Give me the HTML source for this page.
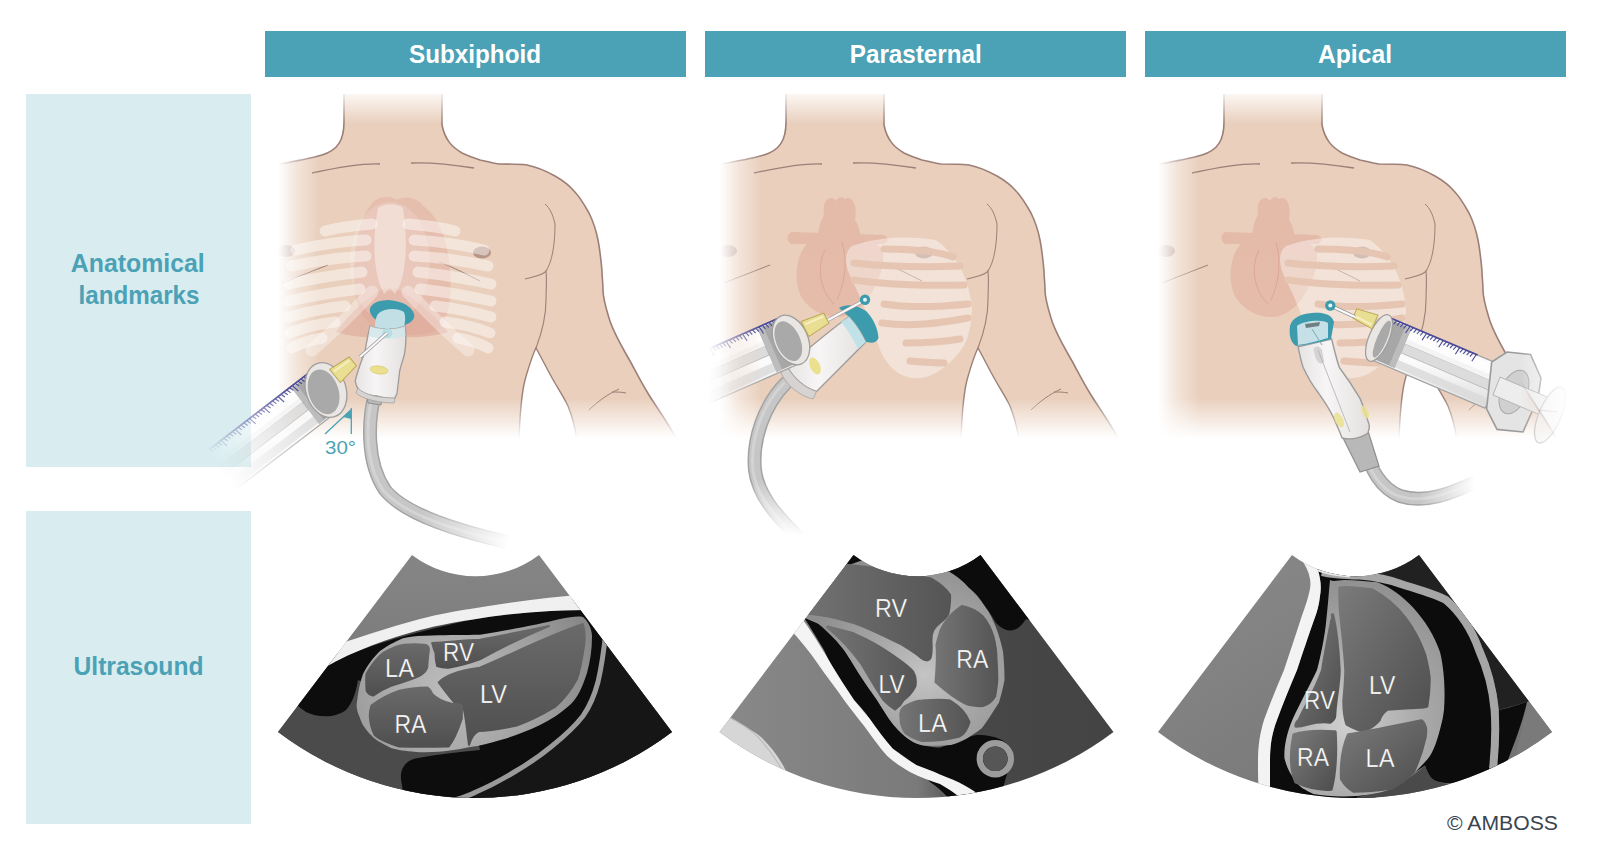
<!DOCTYPE html>
<html><head><meta charset="utf-8">
<style>
html,body{margin:0;padding:0;background:#fff;}
body{width:1600px;height:852px;overflow:hidden;position:relative;}
svg{position:absolute;left:0;top:0;display:block;}
</style></head><body>
<svg width="1600" height="852" viewBox="0 0 1600 852" font-family="'Liberation Sans', sans-serif">
<defs>
  <linearGradient id="gL" x1="0" y1="0" x2="1" y2="0"><stop offset="0" stop-color="#000"/><stop offset="1" stop-color="#fff"/></linearGradient>
  <linearGradient id="gB" x1="0" y1="0" x2="0" y2="1"><stop offset="0" stop-color="#fff"/><stop offset="1" stop-color="#000"/></linearGradient>
  <linearGradient id="gT" x1="0" y1="0" x2="0" y2="1"><stop offset="0" stop-color="#000"/><stop offset="1" stop-color="#fff"/></linearGradient>
  <linearGradient id="mgL" x1="0" y1="0" x2="1" y2="0"><stop offset="0" stop-color="#000" stop-opacity="1"/><stop offset="0.45" stop-color="#000" stop-opacity="0.45"/><stop offset="1" stop-color="#000" stop-opacity="0"/></linearGradient>
  <linearGradient id="mgB" x1="0" y1="0" x2="0" y2="1"><stop offset="0" stop-color="#000" stop-opacity="0"/><stop offset="1" stop-color="#000" stop-opacity="1"/></linearGradient>
  <linearGradient id="mgT" x1="0" y1="0" x2="0" y2="1"><stop offset="0" stop-color="#000" stop-opacity="1"/><stop offset="1" stop-color="#000" stop-opacity="0"/></linearGradient>
  <mask id="mTorso" maskUnits="userSpaceOnUse" x="0" y="0" width="1600" height="852">
    <rect x="200" y="0" width="600" height="852" fill="#fff"/>
    <rect x="200" y="0" width="78" height="852" fill="#000"/>
    <rect x="278" y="0" width="42" height="852" fill="url(#mgL)"/>
    <rect x="200" y="398" width="600" height="40" fill="url(#mgB)"/>
    <rect x="200" y="438" width="600" height="40" fill="#000"/>
    <rect x="200" y="88" width="600" height="36" fill="url(#mgT)"/>
  </mask>
  <g id="torso">
    <path d="M344,94 L344,122 C344,140 338,150 322,155 C305,160 285,163 268,166 L268,445 L519,445 L519,436 C520,410 522,392 525,380 C529,366 532,356 536,348 C541,357 546,367 551,376 C557,387 563,396 568,406 C572,416 575,426 577,445 L677,445 L675,436 C667,421 657,408 649,395 C642,384 636,372 630,361 C621,345 613,332 609,318 C605,305 603,296 603,290 C603,283 602,277 602,271 C601,260 600,250 598,240 C596,230 593,221 589,213 C584,204 580,197 574,191 C568,184 562,180 555,176 C546,171 537,167 527,165 C518,164 508,164 499,164 C492,163 486,161 480,160 C474,158 468,156 462,153 C452,147 445,140 442,125 L442,94 Z" fill="#E9CFBC"/>
    <path d="M344,94 L344,122 C344,140 338,150 322,155 C305,160 285,163 268,166" fill="none" stroke="#9C7F77" stroke-width="1.6"/>
    <path d="M442,94 L442,125 C445,140 452,147 462,153 C468,156 474,158 480,160 C486,161 492,163 499,164 C508,164 518,164 527,165 C537,167 546,171 555,176 C562,180 568,184 574,191 C580,197 584,204 589,213 C593,221 596,230 598,240 C600,250 601,260 602,271 C602,277 603,283 603,290 C603,296 605,305 609,318 C613,332 621,345 630,361 C636,372 642,384 649,395 C657,408 667,421 677,440" fill="none" stroke="#9C7F77" stroke-width="1.6"/>
    <path d="M519,440 C520,410 522,392 525,380 C529,366 532,356 536,348 C541,357 546,367 551,376 C557,387 563,396 568,406 C572,416 575,426 577,440" fill="none" stroke="#9C7F77" stroke-width="1.4"/>
    <path d="M536,348 C541,335 546,320 546,300 C546,290 547,280 546,271 C544,275 535,276 525,279" fill="none" stroke="#9C7F77" stroke-width="1.1"/>
    <path d="M546,271 C552,262 555,245 555,224 C553,215 550,208 545,204" fill="none" stroke="#9C7F77" stroke-width="1"/>
    <path d="M312,173 C335,168 360,163 380,164" fill="none" stroke="#9C7F77" stroke-width="1.3"/>
    <path d="M411,163 C430,162 455,165 474,168" fill="none" stroke="#9C7F77" stroke-width="1.3"/>
    <path d="M589,410 C597,402 608,394 619,389 M612,392 C617,392 622,392 626,393" fill="none" stroke="#9C7F77" stroke-width="1"/>
    <ellipse cx="482" cy="252.5" rx="9" ry="6" fill="#B79587"/>
    <ellipse cx="286" cy="251" rx="9" ry="6" fill="#B79587"/>
    <path d="M282,283 C300,276 315,270 328,265 M439,262 C455,268 468,275 480,281" fill="none" stroke="#8b6e66" stroke-width="1" opacity="0.8"/>
  </g>
  <linearGradient id="fanG" x1="0" y1="0" x2="0" y2="1"><stop offset="0" stop-color="#777"/><stop offset="1" stop-color="#444"/></linearGradient>
</defs>

<!-- header bars -->
<rect x="265" y="31" width="421" height="46" fill="#4BA1B5"/>
<rect x="705" y="31" width="421" height="46" fill="#4BA1B5"/>
<rect x="1145" y="31" width="421" height="46" fill="#4BA1B5"/>
<g fill="#fff" font-weight="bold" font-size="26" text-anchor="middle">
  <text x="475" y="62.5" textLength="132" lengthAdjust="spacingAndGlyphs">Subxiphoid</text>
  <text x="915.75" y="62.5" textLength="132" lengthAdjust="spacingAndGlyphs">Parasternal</text>
  <text x="1355" y="62.5" textLength="74" lengthAdjust="spacingAndGlyphs">Apical</text>
</g>
<!-- left panels -->
<rect x="26" y="94" width="225" height="373" fill="#D9EDF0"/>
<rect x="26" y="511" width="225" height="313" fill="#D9EDF0"/>
<g fill="#4BA1B5" font-weight="bold" font-size="26" text-anchor="middle">
  <text x="137.75" y="272" textLength="134" lengthAdjust="spacingAndGlyphs">Anatomical</text>
  <text x="139" y="303.5" textLength="121" lengthAdjust="spacingAndGlyphs">landmarks</text>
  <text x="138.5" y="675" textLength="130" lengthAdjust="spacingAndGlyphs">Ultrasound</text>
</g>

<!-- torsos -->
<g mask="url(#mTorso)">
  <use href="#torso"/>
  <!-- panel1 heart -->
  <path d="M370,206 C376,196 390,195 397,200 C405,195 418,198 423,206 C438,215 448,240 450,270 C452,300 448,320 438,330 C420,338 395,336 375,328 C360,318 353,300 354,270 C355,240 360,220 370,206 Z" fill="#e3ad9f" opacity="0.5"/>
  <path d="M385,288 C390,292 392,292 395,288 C410,295 430,310 448,332 C430,338 405,338 390,336 C375,338 355,338 336,332 C350,312 370,295 385,288 Z" fill="#dc9f8f" opacity="0.5"/>
  <g fill="none" stroke="#fff" stroke-opacity="0.45" stroke-width="11" stroke-linecap="round">
    <path d="M372.0,224.0 Q345.0,226.0 325.0,231.0"/>
    <path d="M366.0,240.0 Q330.0,242.0 296.0,250.0"/>
    <path d="M366.0,256.0 Q330.0,258.0 292.0,266.0"/>
    <path d="M362.0,272.0 Q325.0,276.0 289.0,284.0"/>
    <path d="M360.0,289.0 Q325.0,293.0 289.0,301.0"/>
    <path d="M345.0,306.0 Q318.0,309.0 289.0,317.0"/>
    <path d="M335.0,322.0 Q310.0,325.0 290.0,333.0"/>
    <path d="M322.0,338.0 Q305.0,341.0 292.0,348.0"/>
    <path d="M408.0,224.0 Q435.0,226.0 455.0,231.0"/>
    <path d="M414.0,240.0 Q450.0,242.0 484.0,250.0"/>
    <path d="M414.0,256.0 Q450.0,258.0 488.0,266.0"/>
    <path d="M418.0,272.0 Q455.0,276.0 491.0,284.0"/>
    <path d="M420.0,289.0 Q455.0,293.0 491.0,301.0"/>
    <path d="M435.0,306.0 Q462.0,309.0 491.0,317.0"/>
    <path d="M445.0,322.0 Q470.0,325.0 490.0,333.0"/>
    <path d="M458.0,338.0 Q475.0,341.0 488.0,348.0"/>
    <path d="M372,292 C355,310 335,330 312,350 M408,292 C425,310 445,330 468,350" stroke-width="13" stroke-opacity="0.33"/>
  </g>
  <path d="M378,208 C385,203 397,203 403,208 C408,240 406,268 400,285 L395,294 L390,288 L384,294 L380,285 C374,268 372,240 378,208 Z" fill="#fff" fill-opacity="0.4"/>
  <ellipse cx="390" cy="262" rx="40" ry="60" fill="#fff" fill-opacity="0.15"/>
</g>
<g transform="translate(442,0)" mask="url(#mTorso)">
  <use href="#torso"/>
  <g id="heart2">
    <g fill="#e0a193" opacity="0.45">
      <path d="M366,243 C352,256 352,285 360,298 C368,310 382,317 395,317 C410,317 422,306 430,292 C438,278 442,265 441,254 C439,246 432,241 424,239 L372,239 Z"/>
      <path d="M376,241 C376,230 378,222 382,215 C381,208 382,201 386,199 C389,197 392,198 394,201 C396,197 400,196 403,199 C406,197 410,198 412,203 C414,208 414,214 413,220 C417,226 419,234 419,241 Z"/>
      <path d="M350,232 L441,235 C447,236 447,243 441,244 L350,244 C344,243 344,233 350,232 Z"/>
    </g>
    <path d="M383,250 C375,265 377,290 392,304 M400,242 C405,260 404,280 395,300" fill="none" stroke="#d49486" stroke-width="1" opacity="0.5"/>
    <path d="M410,246 C438,236 470,236 494,240 C515,255 528,280 530,310 C529,330 525,345 515,355 C500,372 485,380 470,378 C455,376 445,365 438,350 C430,325 420,300 410,280 C402,265 402,252 410,246 Z" fill="#fff" fill-opacity="0.4"/>
    <g fill="none" stroke="#e5c4b1" stroke-opacity="0.95" stroke-width="7" stroke-linecap="round">
      <path d="M442,249 C470,249 495,251 511,257"/>
      <path d="M412,263 C440,266 475,268 518,266"/>
      <path d="M412,280 C440,284 475,286 522,285"/>
      <path d="M442,304 C460,307 485,308 526,304"/>
      <path d="M440,323 C460,326 490,325 526,318"/>
      <path d="M464,343 C480,343 500,342 518,339"/>
      <path d="M468,361 C480,362 492,363 502,363"/>
    </g>
  </g>
</g>
<g transform="translate(880,0)" mask="url(#mTorso)">
  <use href="#torso"/>
  <use href="#heart2" transform="translate(-4,0)"/>
</g>

<!-- instruments -->
<defs>
  <linearGradient id="cableFade1" gradientUnits="userSpaceOnUse" x1="420" y1="515" x2="510" y2="540"><stop offset="0" stop-color="#fff"/><stop offset="1" stop-color="#000"/></linearGradient>
  <mask id="mCable1" maskUnits="userSpaceOnUse" x="0" y="0" width="1600" height="852"><rect x="0" y="0" width="1600" height="852" fill="url(#cableFade1)"/></mask>
  <linearGradient id="cableFade2" gradientUnits="userSpaceOnUse" x1="0" y1="480" x2="0" y2="535"><stop offset="0" stop-color="#fff"/><stop offset="1" stop-color="#000"/></linearGradient>
  <mask id="mCable2" maskUnits="userSpaceOnUse" x="0" y="0" width="1600" height="852"><rect x="0" y="0" width="1600" height="852" fill="url(#cableFade2)"/></mask>
  <linearGradient id="cableFade3" gradientUnits="userSpaceOnUse" x1="1420" y1="0" x2="1475" y2="0"><stop offset="0" stop-color="#fff"/><stop offset="1" stop-color="#000"/></linearGradient>
  <mask id="mCable3" maskUnits="userSpaceOnUse" x="0" y="0" width="1600" height="852"><rect x="0" y="0" width="1600" height="852" fill="url(#cableFade3)"/></mask>
  <linearGradient id="syrFade1" gradientUnits="userSpaceOnUse" x1="300" y1="400" x2="215" y2="465"><stop offset="0" stop-color="#fff"/><stop offset="1" stop-color="#000"/></linearGradient>
  <mask id="mSyr1" maskUnits="userSpaceOnUse" x="0" y="0" width="1600" height="852"><rect x="0" y="0" width="1600" height="852" fill="url(#syrFade1)"/></mask>
  <linearGradient id="syrFade2" gradientUnits="userSpaceOnUse" x1="760" y1="0" x2="708" y2="0"><stop offset="0" stop-color="#fff"/><stop offset="1" stop-color="#000"/></linearGradient>
  <mask id="mSyr2" maskUnits="userSpaceOnUse" x="0" y="0" width="1600" height="852"><rect x="0" y="0" width="1600" height="852" fill="url(#syrFade2)"/></mask>
  <linearGradient id="syrFade3" gradientUnits="userSpaceOnUse" x1="1520" y1="0" x2="1570" y2="0"><stop offset="0" stop-color="#fff"/><stop offset="1" stop-color="#000"/></linearGradient>
  <mask id="mSyr3" maskUnits="userSpaceOnUse" x="0" y="0" width="1600" height="852"><rect x="0" y="0" width="1600" height="852" fill="url(#syrFade3)"/></mask>
  <linearGradient id="barrelG" x1="0" y1="0" x2="0" y2="1"><stop offset="0" stop-color="#f4f4f4"/><stop offset="0.5" stop-color="#fbfbfb"/><stop offset="1" stop-color="#dedede"/></linearGradient>
  <linearGradient id="probeG" x1="0" y1="0" x2="1" y2="0"><stop offset="0" stop-color="#e6e3e3"/><stop offset="0.4" stop-color="#f7f5f5"/><stop offset="1" stop-color="#e4e0e0"/></linearGradient>
  <!-- generic syringe along +x (needle at -x), half width 25 -->
  <g id="syringe">
    <rect x="0" y="-25" width="170" height="50" fill="url(#barrelG)" stroke="#a9a9a9" stroke-width="1.4"/>
    <rect x="3" y="-23" width="22" height="46" fill="#a9a9a9"/>
    <rect x="18" y="-23" width="8" height="46" fill="#bdbdbd"/>
    <rect x="26" y="-8" width="144" height="16" fill="#e7e7e7" stroke="#c4c4c4" stroke-width="1"/>
    <rect x="26" y="-3" width="144" height="4" fill="#f7f7f7"/>
    <path d="M8,-25 L140,-25" stroke="#3f3f8f" stroke-width="5" stroke-dasharray="1.2 2.2"/>
    <path d="M12,-24 L130,-24" stroke="#3f3f8f" stroke-width="9" stroke-dasharray="1.2 15"/>
    <ellipse cx="0" cy="0" rx="7" ry="27" fill="#dedede" stroke="#a9a9a9" stroke-width="1.4"/>
    <ellipse cx="-1" cy="0" rx="4" ry="21" fill="#b9b9b9"/>
  </g>
</defs>

<!-- INST START -->
<g mask="url(#mCable1)">
  <path d="M375,393 C368,420 366,462 385,490 C405,515 460,532 520,545" fill="none" stroke="#a3a3a3" stroke-width="14" stroke-linecap="round"/>
  <path d="M375,393 C368,420 366,462 385,490 C405,515 460,532 520,545" fill="none" stroke="#c6c6c6" stroke-width="11" stroke-linecap="round"/>
  <path d="M375,393 C368,420 366,462 385,490 C405,515 460,532 520,545" fill="none" stroke="#d8d8d8" stroke-width="3" stroke-linecap="round" transform="translate(-2,0)" opacity="0.7"/>
</g>
<path d="M366,390 L383,393 L381,405 L368,403 Z" fill="#b8b8b8" stroke="#8f8f8f" stroke-width="1"/>
<g mask="url(#mSyr1)">
<polygon points="340.6,409.0 209.7,509.5 180.5,471.4 311.4,371.0" fill="url(#barrelG)" stroke="#a5a5a5" stroke-width="1.3"/>
<polygon points="297.7,386.0 182.7,474.3 192.2,486.6 307.2,398.4" fill="#ffffff" opacity="0.7"/>
<polygon points="323.3,419.3 208.2,507.6 203.1,500.9 318.2,412.6" fill="#d9d9d9" opacity="0.8"/>
<polygon points="308.4,409.8 198.1,494.4 192.1,486.5 302.3,401.9" fill="#dcdcdc" stroke="#bdbdbd" stroke-width="1"/>
<polygon points="302.3,401.9 192.1,486.5 189.0,482.5 299.3,397.9" fill="#f4f4f4"/>
<polygon points="339.7,407.9 319.1,423.7 291.7,388.0 312.3,372.1" fill="#a7a7a7"/>
<polygon points="323.8,420.0 319.1,423.7 291.7,388.0 296.4,384.3" fill="#bcbcbc"/>
<path d="M306.6,374.6 L312.7,380.0 M303.8,376.8 L307.7,379.5 M300.9,379.0 L304.8,381.7 M298.1,381.2 L302.0,383.8 M295.2,383.4 L299.1,386.0 M292.3,385.6 L298.4,391.0 M289.5,387.8 L293.4,390.4 M286.6,390.0 L290.6,392.6 M283.8,392.1 L287.7,394.8 M280.9,394.3 L284.9,397.0 M278.1,396.5 L284.1,402.0 M275.2,398.7 L279.1,401.4 M272.4,400.9 L276.3,403.6 M269.5,403.1 L273.4,405.8 M266.6,405.3 L270.6,408.0 M263.8,407.5 L269.8,412.9 M260.9,409.7 L264.9,412.3 M258.1,411.9 L262.0,414.5 M255.2,414.1 L259.1,416.7 M252.4,416.3 L256.3,418.9 M249.5,418.4 L255.6,423.9 M246.7,420.6 L250.6,423.3 M243.8,422.8 L247.7,425.5 M240.9,425.0 L244.9,427.7 M238.1,427.2 L242.0,429.9 M235.2,429.4 L241.3,434.8 M232.4,431.6 L236.3,434.2 M229.5,433.8 L233.4,436.4 M226.7,436.0 L230.6,438.6 M223.8,438.2 L227.7,440.8 M220.9,440.4 L227.0,445.8 M218.1,442.5 L222.0,445.2 M215.2,444.7 L219.2,447.4 M212.4,446.9 L216.3,449.6 M209.5,449.1 L213.5,451.8" stroke="#4a4a98" stroke-width="1.1" fill="none"/>
<path d="M308.2,373.4 L209.3,449.3" stroke="#4a4a98" stroke-width="1.6"/>

</g>
<ellipse cx="326.0" cy="390.0" rx="28.0" ry="20.0" transform="rotate(72.0 326.0 390.0)" fill="#e9e6e4" stroke="#9f9f9f" stroke-width="1.3"/>
<ellipse cx="323.6" cy="391.8" rx="23.0" ry="15.0" transform="rotate(72.0 323.6 391.8)" fill="#a9a9a9"/>
<g transform="translate(335.0,376.0) rotate(-39.4)"><path d="M0,-8.5 L23.0,-5.7 L23.0,5.7 L0,8.5 Z" fill="#e9de92" stroke="#b9a856" stroke-width="1"/><path d="M2,-4.2 L21.0,-2.8" stroke="#f6efc2" stroke-width="2"/></g>
<ellipse cx="392" cy="313" rx="22.5" ry="12.5" fill="#3c9cae" transform="rotate(10 392 313)"/>
<path d="M379,313 C385,308 398,308 404,312 C406,317 405,322 404,327 C396,331 382,331 375,327 C375,321 376,316 379,313 Z" fill="#c2dfe5"/>
<path d="M370,326 C368,335 366,345 365,351.6 C361,362 357,372 355.2,381.2 C356,386 358,389 360,391 C365,394 371,396 377.4,396 C383,398 389,398.4 394.7,398.4 C396,395 397,394 397,393.5 C398,385 399,378 399.6,371.3 C401,365 403,360 404.5,354 C406,345 406.5,335 405,326 C396,330 380,330 370,326 Z" fill="url(#probeG)" stroke="#a09a98" stroke-width="1.3"/>
<path d="M370,326 C380,330 396,330 405,326 L405.5,336 C396,340 380,340 368.5,336 Z" fill="#cfe6ea" opacity="0.8"/>
<path d="M358,388 C364,395 380,398 395,398 L394,403 C380,403 362,399 356,393 Z" fill="#d6d3d2" stroke="#a5a5a5" stroke-width="0.8"/>
<circle cx="387.3" cy="333" r="5" fill="#b6dde4"/>
<path d="M360.0,357.0 L387.0,333.0" stroke="#9a9a9a" stroke-width="3.6"/><path d="M360.0,357.0 L387.0,333.0" stroke="#fbfbfb" stroke-width="2"/>
<ellipse cx="379" cy="370" rx="9" ry="4" fill="#eae08e" transform="rotate(8 379 370)" stroke="#d2c56c" stroke-width="0.6"/>
<path d="M351.3,408 L351.3,434 M325,434 L351.3,409.5" fill="none" stroke="#4aa3b5" stroke-width="1.3"/>
<path d="M351.3,409.5 L351.3,419 L343,417 Z" fill="#4aa3b5"/>
<text x="325" y="453.7" font-size="18" fill="#4aa3b5" textLength="31" lengthAdjust="spacingAndGlyphs">30°</text>
<g mask="url(#mCable2)">
  <path d="M786,383 C764,405 752,440 755,470 C758,495 776,515 796,535" fill="none" stroke="#a3a3a3" stroke-width="14" stroke-linecap="round"/>
  <path d="M786,383 C764,405 752,440 755,470 C758,495 776,515 796,535" fill="none" stroke="#c6c6c6" stroke-width="11" stroke-linecap="round"/>
  <path d="M786,383 C764,405 752,440 755,470 C758,495 776,515 796,535" fill="none" stroke="#d8d8d8" stroke-width="3" stroke-linecap="round" transform="translate(-2,0)" opacity="0.7"/>
</g>
<path d="M839,308 C846,303 858,305 866,311 C873,318 878,328 878.5,338 C877,342 873,344 867,342 L865.8,342 C861,332 855,323 849,317 C846,314 842,311 839,308 Z" fill="#3c9cae"/>
<path d="M787,366 C805,352 830,330 848.9,316.8 C855,323 861,332 865.8,342 C850,358 832,376 816.5,391.4 C805,388 793,378 787,366 Z" fill="url(#probeG)" stroke="#a09a98" stroke-width="1.3"/>
<path d="M841,322 L848.9,316.8 C855,323 861,332 865.8,342 L858,349 C854,340 848,330 841,322 Z" fill="#bfe1e7"/>
<path d="M787,366 C793,378 805,388 816.5,391.4 L813,399 C800,396 787,386 781,373 Z" fill="#d6d3d2" stroke="#a5a5a5" stroke-width="0.8"/>
<ellipse cx="815" cy="366" rx="5" ry="9" fill="#eae08e" transform="rotate(-25 815 366)"/>
<g mask="url(#mSyr2)">
<polygon points="801.0,362.9 691.2,411.1 671.1,365.3 781.0,317.1" fill="url(#barrelG)" stroke="#a5a5a5" stroke-width="1.3"/>
<polygon points="764.1,328.6 672.6,368.8 679.1,383.7 770.7,343.5" fill="#ffffff" opacity="0.7"/>
<polygon points="781.7,368.6 690.2,408.8 686.6,400.8 778.2,360.6" fill="#d9d9d9" opacity="0.8"/>
<polygon points="769.2,355.0 683.1,392.8 679.1,383.7 765.2,345.9" fill="#dcdcdc" stroke="#bdbdbd" stroke-width="1"/>
<polygon points="765.2,345.9 679.1,383.7 677.1,379.1 763.2,341.3" fill="#f4f4f4"/>
<polygon points="800.4,361.5 776.6,372.0 757.7,328.9 781.6,318.5" fill="#a7a7a7"/>
<polygon points="782.1,369.6 776.6,372.0 757.7,328.9 763.2,326.5" fill="#bcbcbc"/>
<path d="M775.5,319.5 L780.0,326.2 M772.2,321.0 L775.3,324.5 M768.9,322.4 L772.0,325.9 M765.6,323.9 L768.8,327.4 M762.3,325.3 L765.5,328.8 M759.0,326.8 L763.6,333.5 M755.7,328.2 L758.9,331.7 M752.4,329.6 L755.6,333.2 M749.1,331.1 L752.3,334.6 M745.8,332.5 L749.0,336.1 M742.5,334.0 L747.1,340.7 M739.2,335.4 L742.4,339.0 M735.9,336.9 L739.1,340.4 M732.6,338.3 L735.8,341.8 M729.3,339.8 L732.5,343.3 M726.0,341.2 L730.6,347.9 M722.7,342.7 L725.9,346.2 M719.4,344.1 L722.6,347.6 M716.1,345.6 L719.3,349.1 M712.8,347.0 L716.0,350.5 M709.5,348.5 L714.1,355.2 M706.2,349.9 L709.4,353.4 M702.9,351.4 L706.1,354.9 M699.6,352.8 L702.8,356.3 M696.3,354.2 L699.5,357.8" stroke="#4a4a98" stroke-width="1.1" fill="none"/>
<path d="M777.3,318.7 L695.2,354.7" stroke="#4a4a98" stroke-width="1.6"/>

</g>
<ellipse cx="791.0" cy="340.0" rx="26.0" ry="17.0" transform="rotate(-113.7 791.0 340.0)" fill="#e9e6e4" stroke="#9f9f9f" stroke-width="1.3"/>
<ellipse cx="788.3" cy="341.2" rx="21.0" ry="12.0" transform="rotate(-113.7 788.3 341.2)" fill="#a9a9a9"/>
<g transform="translate(805.0,329.0) rotate(-27.0)"><path d="M0,-8.5 L24.0,-5.7 L24.0,5.7 L0,8.5 Z" fill="#e9de92" stroke="#b9a856" stroke-width="1"/><path d="M2,-4.2 L22.0,-2.8" stroke="#f6efc2" stroke-width="2"/></g>
<path d="M828.0,320.0 L865.0,300.0" stroke="#9a9a9a" stroke-width="3.6"/><path d="M828.0,320.0 L865.0,300.0" stroke="#fbfbfb" stroke-width="2"/>
<circle cx="865" cy="299.7" r="5.2" fill="#3c9cae"/><circle cx="865" cy="299.7" r="2" fill="#e8f4f6"/>
<g mask="url(#mCable3)">
  <path d="M1362,445 C1372,470 1380,488 1400,496 C1425,504 1450,494 1480,480" fill="none" stroke="#a3a3a3" stroke-width="14" stroke-linecap="round"/>
  <path d="M1362,445 C1372,470 1380,488 1400,496 C1425,504 1450,494 1480,480" fill="none" stroke="#c6c6c6" stroke-width="11" stroke-linecap="round"/>
  <path d="M1362,445 C1372,470 1380,488 1400,496 C1425,504 1450,494 1480,480" fill="none" stroke="#d8d8d8" stroke-width="3" stroke-linecap="round" transform="translate(-2,0)" opacity="0.7"/>
</g>
<path d="M1342,436 L1368,431 L1379,466 L1360,472 Z" fill="#b8b8b8" stroke="#8f8f8f" stroke-width="1.2"/>
<path d="M1298,346.8 C1300,355 1301,362 1303.2,367.5 C1308,378 1313,386 1318.7,393.3 C1325,402 1330,410 1334.2,419 C1337,426 1340,432 1342,438 C1350,440 1360,438 1367.8,433.3 C1369,430 1370,427 1369,424.3 C1366,415 1363,405 1360,398.4 C1352,385 1345,375 1339.4,367.5 C1336,358 1334,348 1331.6,339 Z" fill="url(#probeG)" stroke="#9c9c9c" stroke-width="1.4"/>
<path d="M1290,326 C1292,318 1300,314 1312,313 C1322,312 1332,314 1334,322 L1331,339 C1320,342 1305,345 1296,346 C1290,342 1289,334 1290,326 Z" fill="#3c9cae"/>
<path d="M1297,326 C1303,321 1322,319 1328,323 L1328,338 C1318,341 1306,344 1298,345 Z" fill="#c5e0e6"/><path d="M1305,324 L1320,322 L1319,326 L1306,328 Z" fill="#6f7f84"/>
<path d="M1312,329 L1322,345" stroke="#7aaab4" stroke-width="1"/>
<path d="M1314,352 C1312,346 1319,344 1322,350 L1324,362 C1320,366 1316,362 1314,352 Z" fill="#d4d4d4"/>
<path d="M1318,350 L1350,432" stroke="#b0b0b0" stroke-width="0.8"/>
<ellipse cx="1339" cy="420" rx="4" ry="8" fill="#eae08e" opacity="0.85" transform="rotate(-25 1339 420)"/>
<ellipse cx="1365" cy="412" rx="3" ry="7" fill="#eae08e" opacity="0.85" transform="rotate(-25 1365 412)"/>
<g mask="url(#mSyr3)">
<polygon points="1388.0,316.8 1503.0,365.9 1485.0,408.2 1370.0,359.2" fill="url(#barrelG)" stroke="#a5a5a5" stroke-width="1.3"/>
<polygon points="1405.1,327.9 1501.6,369.1 1495.8,382.8 1399.2,341.6" fill="#ffffff" opacity="0.7"/>
<polygon points="1389.3,364.9 1485.9,406.1 1489.0,398.7 1392.4,357.5" fill="#d9d9d9" opacity="0.8"/>
<polygon points="1404.9,343.6 1495.9,382.4 1492.0,391.6 1401.0,352.8" fill="#dcdcdc" stroke="#bdbdbd" stroke-width="1"/>
<polygon points="1404.9,343.6 1495.9,382.4 1497.9,377.8 1406.8,339.0" fill="#f4f4f4"/>
<polygon points="1387.4,318.2 1411.4,328.4 1394.5,368.0 1370.6,357.8" fill="#a7a7a7"/>
<polygon points="1405.8,326.1 1411.4,328.4 1394.5,368.0 1389.0,365.6" fill="#bcbcbc"/>
<path d="M1393.5,319.2 L1389.0,326.0 M1396.9,320.6 L1393.7,324.2 M1400.2,322.0 L1397.0,325.6 M1403.5,323.4 L1400.3,327.0 M1406.8,324.8 L1403.6,328.4 M1410.1,326.3 L1405.6,333.0 M1413.4,327.7 L1410.3,331.2 M1416.7,329.1 L1413.6,332.6 M1420.0,330.5 L1416.9,334.0 M1423.3,331.9 L1420.2,335.5 M1426.7,333.3 L1422.1,340.1 M1430.0,334.7 L1426.8,338.3 M1433.3,336.1 L1430.1,339.7 M1436.6,337.6 L1433.4,341.1 M1439.9,339.0 L1436.8,342.5 M1443.2,340.4 L1438.7,347.2 M1446.5,341.8 L1443.4,345.3 M1449.8,343.2 L1446.7,346.8 M1453.1,344.6 L1450.0,348.2 M1456.5,346.0 L1453.3,349.6 M1459.8,347.4 L1455.3,354.2 M1463.1,348.9 L1459.9,352.4 M1466.4,350.3 L1463.2,353.8 M1469.7,351.7 L1466.6,355.2 M1473.0,353.1 L1469.9,356.6 M1476.3,354.5 L1471.8,361.3" stroke="#4a4a98" stroke-width="1.1" fill="none"/>
<path d="M1391.7,318.4 L1477.7,355.1" stroke="#4a4a98" stroke-width="1.6"/>
<polygon points="1507,352 1530.5,354.5 1541,378 1538,398 1523,432 1497,429.4 1486.6,408.8 1491.7,362" fill="#e4e4e4" stroke="#9b9b9b" stroke-width="1.6"/>
<ellipse cx="1514" cy="392" rx="13" ry="23" fill="#d0d0d0" stroke="#a8a8a8" stroke-width="1" transform="rotate(23 1514 392)"/>
<polygon points="1500,377 1552,399 1545,417 1493,395" fill="#ededed" stroke="#b5b5b5" stroke-width="1"/>
<ellipse cx="1550" cy="415" rx="11" ry="30" fill="#f3f3f3" stroke="#c5c5c5" stroke-width="1.4" transform="rotate(23 1550 415)"/>
<path d="M1538,410 L1558,412" stroke="#c5c5c5" stroke-width="1"/>
</g>
<ellipse cx="1379.0" cy="338.0" rx="25.0" ry="10.0" transform="rotate(113.1 1379.0 338.0)" fill="#e9e6e4" stroke="#9f9f9f" stroke-width="1.3"/>
<ellipse cx="1381.8" cy="339.2" rx="20.0" ry="5.0" transform="rotate(113.1 1381.8 339.2)" fill="#a9a9a9"/>
<g transform="translate(1375.0,322.0) rotate(203.0)"><path d="M0,-7.5 L22.0,-5.0 L22.0,5.0 L0,7.5 Z" fill="#e9de92" stroke="#b9a856" stroke-width="1"/><path d="M2,-3.8 L20.0,-2.5" stroke="#f6efc2" stroke-width="2"/></g>
<path d="M1355.0,317.0 L1330.0,305.5" stroke="#9a9a9a" stroke-width="3.6"/><path d="M1355.0,317.0 L1330.0,305.5" stroke="#fbfbfb" stroke-width="2"/>
<circle cx="1330.3" cy="305.5" r="5.2" fill="#3c9cae"/><circle cx="1330.3" cy="305.5" r="2" fill="#e8f4f6"/>
<!-- INST END -->

<!-- fans -->
<clipPath id="fan1c"><path d="M412,555 A105.3,105.3 0 0 0 539,555 L672,732 A327.3,327.3 0 0 1 278,732 Z"/></clipPath>
<linearGradient id="fanBg" x1="0" y1="0" x2="0" y2="1"><stop offset="0" stop-color="#878787"/><stop offset="0.45" stop-color="#7b7b7b"/><stop offset="1" stop-color="#4a4a4a"/></linearGradient>
<linearGradient id="wallG" x1="0" y1="0" x2="1" y2="1"><stop offset="0" stop-color="#b8b8b8"/><stop offset="1" stop-color="#979797"/></linearGradient>
<linearGradient id="chG" x1="0" y1="0" x2="0" y2="1"><stop offset="0" stop-color="#6a6a6a"/><stop offset="1" stop-color="#4f4f4f"/></linearGradient>
<radialGradient id="wall1G" gradientUnits="userSpaceOnUse" cx="450" cy="690" r="150"><stop offset="0" stop-color="#bdbdbd"/><stop offset="0.55" stop-color="#a3a3a3"/><stop offset="1" stop-color="#878787"/></radialGradient>
<g clip-path="url(#fan1c)">
  <rect x="270" y="540" width="410" height="270" fill="url(#fanBg)"/>
  <path d="M290,668 C360,645 420,626 470,614 C510,606 550,600 600,598 L700,600 L700,820 L270,820 L270,680 Z" fill="#4b4b4b"/>
  <path d="M604,600 L720,600 L720,820 L470,820 L476,792 C490,786 503,779 516,771 C528,764 540,756 552,746 C562,738 572,730 583,716 C590,706 594,697 598,682 C601,670 603,660 604,643 Z" fill="#161616"/>
  <path d="M320,668 C355,650 390,638 470,620 C510,613 550,610 590,610 C600,620 604,635 604,643 C603,660 601,670 598,682 C594,697 590,706 583,716 C572,730 562,738 552,746 C540,756 528,764 516,771 C503,779 490,786 476,792 L470,820 L406,820 L402,785 C398,770 405,760 418,758 C440,754 460,752 480,750 L470,700 L400,700 L358,680 C356,692 353,702 346,710 C336,718 318,718 306,712 C298,706 290,700 280,690 Z" fill="#0d0d0d"/>
  <path d="M606,630 C604,650 602,665 598,682 C594,697 590,706 583,716 C572,730 562,738 552,746 C540,756 528,764 516,771 C503,779 490,786 476,792 C470,795 465,797 455,800" fill="none" stroke="#9a9a9a" stroke-width="5"/>
  <path d="M322,650 C350,640 390,627 420,619 C440,614 455,611 470,609 C510,602 550,597 590,594 L597,610 C550,610 510,613 470,620 C455,622 440,625 420,630 C390,638 355,650 324,668 Z" fill="#f0f0f0"/>
  <path d="M583,617 C589,622 592,630 592,637 C592,650 590,662 587,673 C582,688 578,697 571,704 C560,714 550,720 540,725 C525,732 512,737 500.5,740 C490,743 480,746 470,747 C455,750 440,753 416,752 C405,751 398,750 391,748 C380,742 375,740 371,735 C364,728 361,722 360,718 C357,712 356,706 357,702 C358,692 360,682 363,674 C368,664 374,657 380,651 C390,644 398,640 404,638 C414,636 422,636 432,635.6 C450,635 465,635 480,634.8 C510,630 540,624 560,619 C570,617 578,616 583,617 Z" fill="url(#wall1G)"/>
  <g fill="url(#chG)" stroke="url(#chG)" stroke-width="2" stroke-linejoin="round">
    <path d="M373,695.6 C368,694 366,692 366.4,688 C366,682 366,678 366.4,674 C372,664 378,657 383,653 C392,648 398,645 404,644.7 C412,644 418,644 424,644.7 C427,645 428.9,647 428.9,649.6 C428,656 427.5,662 427.2,667.7 C426,671 423,674 419,676 C410,680 400,683 391,685.7 C385,688 378,692 373,695.6 Z"/>
    <path d="M432.2,643 C450,642 465,640 479.8,639.7 C500,636 530,630 549,626 C520,638 500,648 479.8,659.4 C470,663 460,666 448.6,667.7 C444,668 440,667 437.1,666 C436,662 435.5,658 435.5,652.9 C434,650 433,646 432.2,643 Z"/>
    <path d="M438.7,682.4 C443,678 447,676 451.9,674.2 C460,671 470,669 479.8,667.7 C510,655 550,635 583,624 C585,632 585,640 584,646 C582,660 580,670 577,679 C570,692 563,700 555,707 C540,716 528,722 516,725.7 C500,729 488,731 479,731 C475,732 471,738 469,744.9 C467,730 466,718 464,710 C462,706 458,704 454,702 C449,696 444,690 438.7,682.4 Z"/>
    <path d="M371.4,705.5 C380,699 390,694 399.3,690.7 C410,688 420,687.5 427.2,687.4 C430,689 431,691 432.2,694 C437,699 443,702 451.9,703.8 C456,704 459,704.5 461.8,705.5 C462,710 462,714 461.8,718.6 C458,730 454,740 448.6,746.5 C430,747 415,747 399.3,746.5 C388,743 380,740 374.7,735 C371,728 370,722 369.7,715.3 C370,711 370.5,708 371.4,705.5 Z"/>
  </g>
  <g fill="#fff" font-size="26" font-weight="normal" stroke="#5e5e5e" stroke-width="0.6" stroke-opacity="0.6">
    <text x="385" y="676.7" textLength="29" lengthAdjust="spacingAndGlyphs">LA</text>
    <text x="443" y="661.1" textLength="31" lengthAdjust="spacingAndGlyphs">RV</text>
    <text x="394.4" y="732.6" textLength="32" lengthAdjust="spacingAndGlyphs">RA</text>
    <text x="480" y="703.4" textLength="27" lengthAdjust="spacingAndGlyphs">LV</text>
  </g>
</g>
<clipPath id="fan2c"><path d="M853.5,555 A105.3,105.3 0 0 0 980.5,555 L1113.5,732 A327.3,327.3 0 0 1 719.5,732 Z"/></clipPath>
<linearGradient id="fan2Bg" x1="0" y1="0" x2="1" y2="0"><stop offset="0" stop-color="#8a8a8a"/><stop offset="0.5" stop-color="#7a7a7a"/><stop offset="0.62" stop-color="#484848"/><stop offset="1" stop-color="#434343"/></linearGradient>
<linearGradient id="ch2G" x1="0" y1="0" x2="1" y2="0"><stop offset="0" stop-color="#747474"/><stop offset="1" stop-color="#555"/></linearGradient>
<radialGradient id="wall2G" gradientUnits="userSpaceOnUse" cx="925" cy="675" r="120"><stop offset="0" stop-color="#c4c4c4"/><stop offset="0.5" stop-color="#a5a5a5"/><stop offset="1" stop-color="#8e8e8e"/></radialGradient>
<g clip-path="url(#fan2c)">
  <rect x="710" y="540" width="415" height="270" fill="url(#fan2Bg)"/>
  <path d="M700,700 L730,718 C745,726 755,732 761,737 C772,748 782,760 790,780 L700,800 Z" fill="#d6d6d6"/>
  <path d="M727,716 C742,724 752,731 758,737 C768,748 778,760 786,778" fill="none" stroke="#bdbdbd" stroke-width="1.2"/>
  <path d="M940,560 L1060,540 L1060,630 L1026,619 C1020,628 1016,630 1010,630.4 C1004,630 1000,627 996,623 C990,612 986,608 985,606.5 C980,598 975,592 969,588 C962,580 955,575 948,571 Z" fill="#0c0c0c"/>
  <!-- black band + bottom blob -->
  <path d="M780,590 L804,617.6 L818,623.5 C830,634 838,642 844,650 C848,655 851,660 853,664 C860,676 870,690 877,700 C882,708 886,714 889.3,719.3 C895,727 900,733 905.7,737 C912,742 917,744 922.2,745.2 C930,747 936,747.5 940,747.5 C955,743 965,737 976.6,735 C988,735 996,737 1002,740 C1008,744 1010,748 1009,752 C1010,765 1008,772 1005.5,779 L1000,800 L960,810 C950,800 940,788 930,782 L916.3,765.1 C905,757 898,752 892.8,748.7 C885,740 877,730 869.3,718.2 C865,712 860,706 854,700 C846,688 838,675 831,664 C828,659 826,654 824,650 C818,640 810,627 804,617.6 Z" fill="#0c0c0c"/>
  <!-- white band -->
  <path d="M788,627 C800,640 810,652 818,664 C826,676 836,688 844,700 C850,708 857,717 863.5,725.2 C871,735 879,747 887,755.7 C895,763 903,768 910.4,772.2 C920,777 930,781 940,784 C950,790 960,796 968,805 L985,800 C975,790 960,782 940,774.5 C932,771 924,768 916.3,765.1 C908,760 900,754 892.8,748.7 C885,740 877,729 869.3,718.2 C864,712 859,706 854,700 C846,688 838,676 831,664 C826,655 818,642 810,630 C806,624 803,620 800,615 Z" fill="#f4f4f4"/>
  <!-- heart outer -->
  <path d="M850,548 L863,560 C870,564 873,566 877,567 C895,570 912,572 927,574 L948,571 C955,575 962,580 969,588 C975,593 980,599 985,606.5 C990,613 993,620 996,627.6 C999,635 1001,643 1003,651.5 C1004,661 1004.5,670 1004.5,680 C1003,688 1001,696 999,702.5 C993,712 988,720 982,728 C972,736 962,742 951,745 C940,746 930,746 922.2,745.2 C916,744 911,741 905.7,737 C900,732 894,726 889.3,719.3 C885,713 881,706 877,700 C870,690 860,676 853,664 C850,659 847,655 844,650 C836,640 828,630 818,623.5 L804,617.6 L780,600 L800,548 Z" fill="url(#wall2G)"/>
  <path d="M848,550 L863,560 L846,566 Z" fill="#0c0c0c"/>
  <g fill="url(#ch2G)" stroke="url(#ch2G)" stroke-width="3" stroke-linejoin="round">
    <path d="M800,560 L880,569 C900,573 915,576 931,579 C938,583 945,588 949.6,595 C950,602 949,608 948,613.5 C946,618 943,620 940,622 C936,625 934,628 932.7,630.4 C931,634 931,638 931,640 C931,645 932,652 930,658 C928,661 925,660 922,658 C915,652 908,648 901,643.6 C885,636 870,628 854,622.5 C835,617 820,614 807,613 L795,600 Z"/>
    <path d="M827.6,627 C840,630 848,632 854,634 C870,641 882,648 891.5,655 C900,661 908,666 912.6,671.8 C915,676 916,681 915,686 C912,692 907,697 903,700 C901,704 898,707 895,709 C890,706 887,703 884,700 C876,688 869,676 862,664 C852,650 840,637 827.6,627 Z"/>
    <path d="M901,718 C900,712 902,708 906,706 C912,703 917,701 922,701 C935,700 945,700 950,701 C958,706 966,714 969,722 C967,729 963,734 959.5,736 C948,739 935,740.5 922,740.5 C914,738 908,735 905,732 C902,727 901,722 901,718 Z"/>
    <path d="M962,606.5 C970,608 977,612 982,616.3 C987,622 991,630 993.2,637.5 C995,645 996,652 996,658.6 C996.5,665 996.8,672 996.8,680 C996.5,686 995.5,691 994.7,696 C992,701 988,704 983,705.5 C975,706 970,705.5 965,703 C955,698 945,690 936,682 C937,670 938,655 937,644.5 C938,640 939.5,635 941,630.4 C943,626 945.5,622 948.2,619 C952,614 957,610 962,606.5 Z"/>
  </g>
  <circle cx="995.3" cy="758.7" r="15.5" fill="none" stroke="#9c9c9c" stroke-width="6.4"/>
  <circle cx="995.3" cy="758.7" r="12.3" fill="#565656"/>
  <g fill="#fff" font-size="26" font-weight="normal" stroke="#5e5e5e" stroke-width="0.6" stroke-opacity="0.6">
    <text x="875" y="616.5" textLength="32" lengthAdjust="spacingAndGlyphs">RV</text>
    <text x="956.3" y="667.5" textLength="32" lengthAdjust="spacingAndGlyphs">RA</text>
    <text x="878.5" y="693.2" textLength="26" lengthAdjust="spacingAndGlyphs">LV</text>
    <text x="918" y="732.3" textLength="29" lengthAdjust="spacingAndGlyphs">LA</text>
  </g>
</g>
<clipPath id="fan3c"><path d="M1292,555 A105.3,105.3 0 0 0 1419,555 L1552,732 A327.3,327.3 0 0 1 1158,732 Z"/></clipPath>
<linearGradient id="fan3Bg" x1="0" y1="0" x2="1" y2="1"><stop offset="0" stop-color="#8c8c8c"/><stop offset="1" stop-color="#6e6e6e"/></linearGradient>
<linearGradient id="ch3G" x1="0" y1="0" x2="1" y2="1"><stop offset="0" stop-color="#7a7a7a"/><stop offset="1" stop-color="#4e4e4e"/></linearGradient>
<radialGradient id="wall3G" gradientUnits="userSpaceOnUse" cx="1345" cy="725" r="150"><stop offset="0" stop-color="#cfcfcf"/><stop offset="0.5" stop-color="#aaaaaa"/><stop offset="1" stop-color="#8f8f8f"/></radialGradient>
<g clip-path="url(#fan3c)">
  <rect x="1150" y="540" width="415" height="270" fill="url(#fan3Bg)"/>
  <!-- dark textured upper right -->
  <path d="M1350,560 L1430,540 L1570,690 L1527,702 C1515,706 1505,708 1499,710 C1497,690 1490,665 1483,650 C1470,625 1455,610 1446,600 C1430,590 1410,584 1380,578 Z" fill="#212121"/>
  <!-- grey bottom right -->
  <path d="M1527,702 L1570,690 L1570,810 L1500,810 C1510,780 1520,740 1527,702 Z" fill="#7a7a7a"/>
  <path d="M1499,710 C1508,708 1515,706 1527,702 C1522,725 1512,750 1500,780 L1470,790 C1485,775 1495,760 1497,740 Z" fill="#0c0c0c"/>
  <!-- black band left + big blob right -->
  <path d="M1312,560 L1332,572 C1345,574 1360,575 1380,578 C1410,584 1430,590 1446,600 C1455,610 1470,625 1479,650 C1488,670 1494,690 1494.6,710 C1495,730 1494,750 1490,769 C1484,772 1475,778 1459,782.5 C1450,784 1440,783 1435,780.8 C1430,778 1427,772 1425,765.5 L1357,810 L1290,810 L1290,800 L1270,800 C1270,780 1270,770 1270,760 C1270,745 1272,733 1277,720 C1283,703 1290,687 1297,670 C1303,652 1308,637 1314,620 C1317,612 1319,605 1320,596 C1321,590 1321,585 1320,579 C1319,572 1317,567 1312,560 Z" fill="#0c0c0c"/>
  <!-- grey between LA and blob -->
  <path d="M1357,797 C1391,790 1412,778 1425,765.5 C1427,772 1430,778 1435,780.8 C1445,786 1459,783 1470,780 L1480,810 L1350,810 Z" fill="#4a4a4a"/>
  <!-- pericardium line -->
  <path d="M1322,572 C1330,574 1345,575 1360,575.6 C1375,577 1390,580 1401,584 C1420,590 1435,594 1446,600 C1460,612 1472,630 1479,650 C1488,670 1493,690 1494.6,710 C1496,730 1495,750 1493,769" fill="none" stroke="#a6a6a6" stroke-width="8"/>
  <path d="M1318,569 C1326,572 1335,574 1350,575" fill="none" stroke="#e8e8e8" stroke-width="5"/>
  <!-- white band -->
  <path d="M1294,553 C1298,556 1300,558 1301.5,560 C1306,566 1309,572 1310,579 C1311,585 1310,590 1308.3,596 C1306,605 1303,612 1300.5,620 C1295,637 1290,652 1284,670 C1277,687 1270,703 1264,720 C1260,733 1258,745 1258,760 C1258,770 1258,780 1259,800 L1270,800 C1270,780 1270,770 1270,760 C1270,745 1272,733 1277,720 C1283,703 1290,687 1297,670 C1303,652 1308,637 1314,620 C1317,612 1319,605 1320,596 C1321,590 1321,585 1320,579 C1319,572 1317,567 1314,563 C1311,559 1306,555 1300,551 Z" fill="#f3f3f3"/>
  <!-- heart outer wall -->
  <path d="M1330,580 C1334,582 1338,580 1344.5,580 C1355,580 1365,581 1377.4,582.3 C1392,588 1403,597 1412.6,607 C1426,622 1434,635 1440,652 C1444,668 1445.5,690 1444,710 C1443,718 1442,722 1440.4,728 C1436,745 1432,755 1425,762 C1412,776 1402,784 1391,789.3 C1380,793 1370,795 1357,796 C1340,797 1325,796 1313.4,794 C1305,790 1300,787 1298,784 C1290,775 1286,765 1284.4,758 C1284,748 1286,735 1292.3,720 C1300,703 1310,685 1317,670 C1321,655 1325,635 1326.3,620 C1328,605 1329,590 1330,580 Z" fill="url(#wall3G)"/>
  <g fill="url(#ch3G)" stroke="url(#ch3G)" stroke-width="3.5" stroke-linejoin="round">
    <path d="M1341.5,620 C1340,610 1340,595 1340,588 C1350,587 1360,589 1372,590 C1385,597 1396,606 1405.5,618.7 C1414,630 1420,642 1424.3,654 C1427,665 1429,672 1429,680 C1429,690 1428,698 1426.7,706 C1425,707 1420,707 1410,707.5 C1400,708 1393,708.5 1387,709 C1383,712 1380,716 1379,720 C1375,725 1368,729 1363,731 C1355,728 1350,726 1347,724 C1345,718 1344,710 1344,701 C1345,690 1346,680 1346,670 C1345,650 1343,635 1341.5,620 Z"/>
    <path d="M1332.5,615 C1333,618 1333,620 1332,620 C1328,640 1325,655 1322.8,670 C1316,690 1306,705 1299.3,720 C1297,722 1296,724 1296,726 C1300,726 1304,725 1307,724 C1315,722 1323,721 1330,722 C1333,720 1334.5,718 1334.5,716 C1335,700 1339,685 1339,670 C1338,650 1336,630 1332.5,615 Z"/>
    <path d="M1294,735 C1305,731 1320,731 1335,732 C1336,750 1336,770 1331,789 C1318,790 1305,786 1296,782 C1291,770 1290,755 1294,735 Z"/>
    <path d="M1348.5,735 C1370,732 1395,726 1421.7,721 C1426,725 1426,730 1425,737 C1422,750 1418,762 1413,772 C1405,780 1398,785 1391,788 C1378,790 1365,791 1353.6,791 C1348,788 1344,783 1341.7,779 C1341,765 1342,750 1348.5,735 Z"/>
  </g>
  <g fill="#fff" font-size="26" font-weight="normal" stroke="#5e5e5e" stroke-width="0.6" stroke-opacity="0.6">
    <text x="1304" y="708.6" textLength="31" lengthAdjust="spacingAndGlyphs">RV</text>
    <text x="1297" y="766.4" textLength="32" lengthAdjust="spacingAndGlyphs">RA</text>
    <text x="1369" y="694" textLength="26.5" lengthAdjust="spacingAndGlyphs">LV</text>
    <text x="1365.5" y="767.2" textLength="29" lengthAdjust="spacingAndGlyphs">LA</text>
  </g>
</g>

<text x="1558" y="829.5" text-anchor="end" font-size="20" fill="#3A4450" textLength="111" lengthAdjust="spacingAndGlyphs">© AMBOSS</text>
</svg>
</body></html>
